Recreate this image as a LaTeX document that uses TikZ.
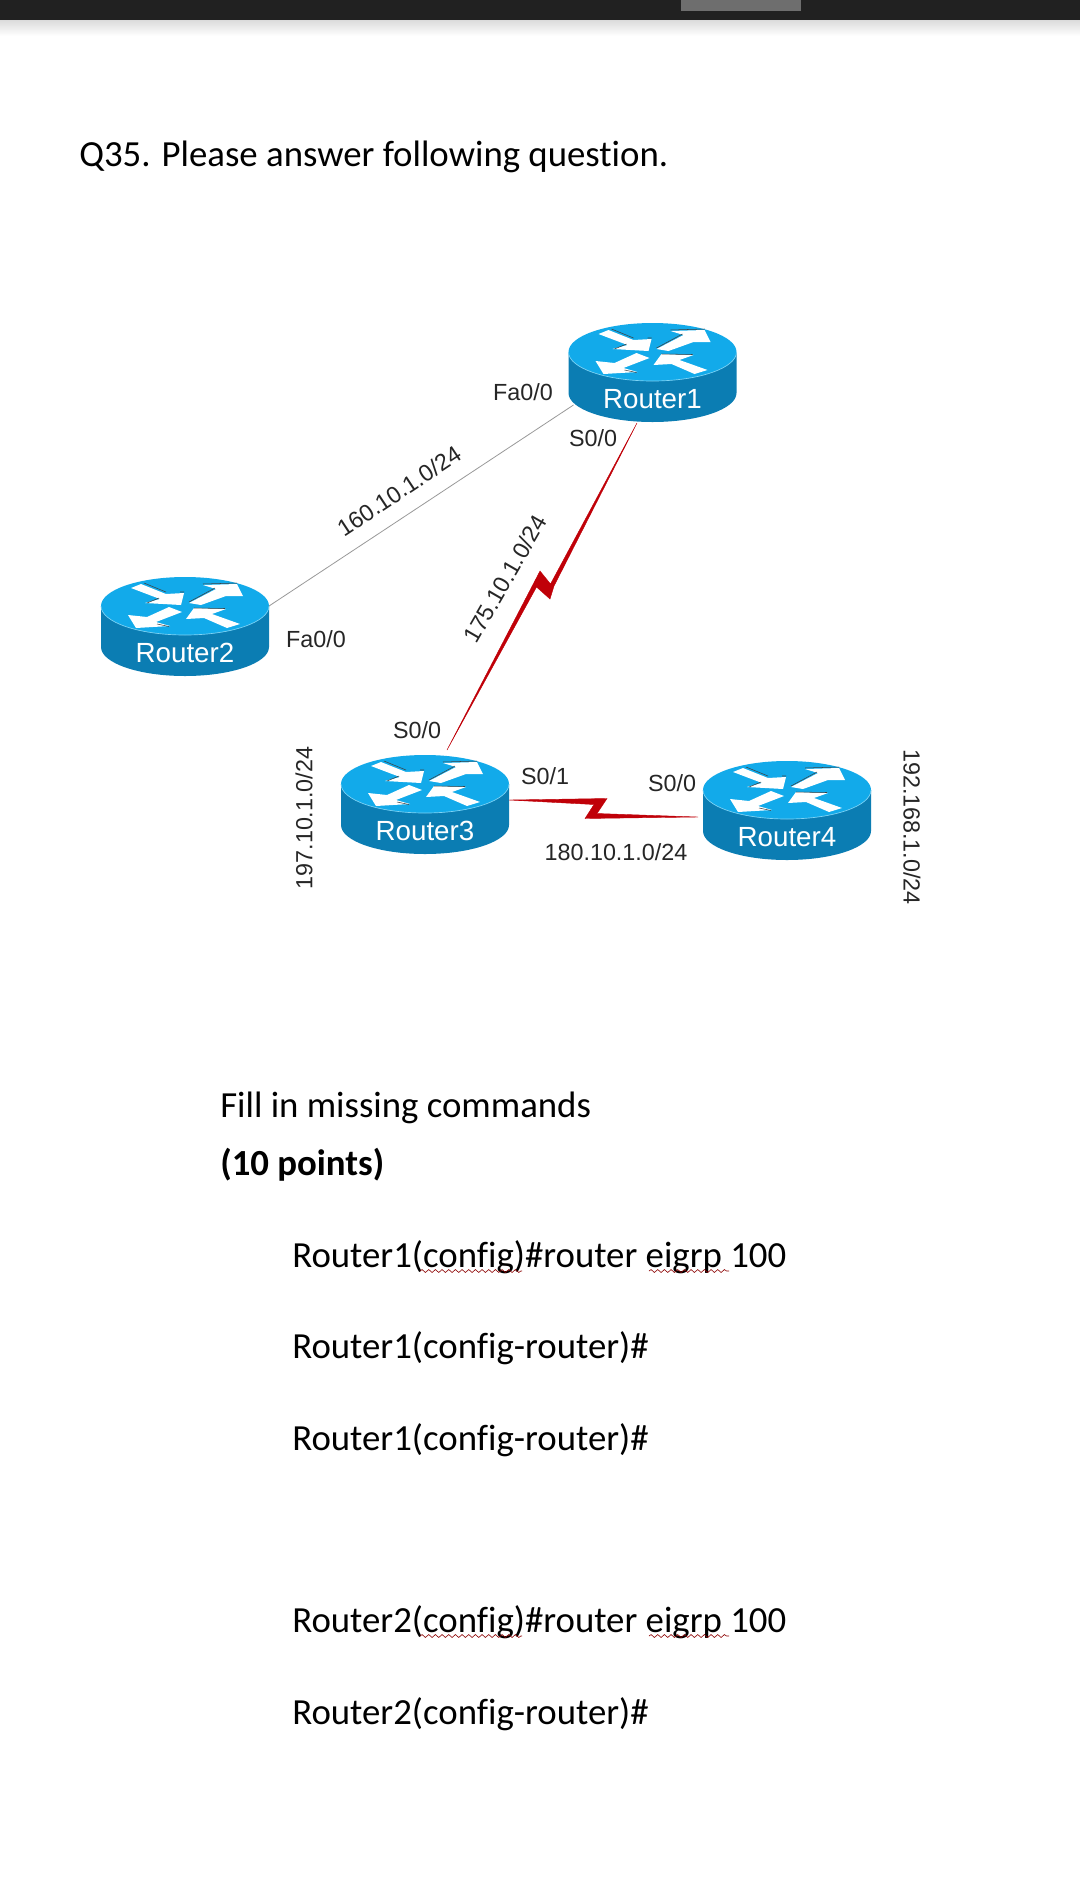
\documentclass[tikz,border=0pt]{standalone}
\usepackage{fontspec}
\setmainfont[Ligatures=NoCommon]{Carlito}
\newfontfamily\diagfont{Liberation Sans}
\usetikzlibrary{calc,decorations.pathmorphing}
\definecolor{rtop}{HTML}{12AAEA}
\definecolor{rside}{HTML}{0B7DB3}
\definecolor{rrim}{HTML}{7FD4F5}
\definecolor{serialred}{HTML}{C00008}
\definecolor{barcol}{HTML}{212121}
\definecolor{barblock}{HTML}{6E6E6E}
\tikzset{
  x=0.75pt,y=-0.75pt,
  routerbox/.style={rectangle,minimum width=126pt,minimum height=73.5pt,inner sep=0pt,text=white,
    font=\diagfont\fontsize{20.8}{24}\selectfont},
  netlabel/.style={inner sep=0pt,text=black!85,font=\diagfont\fontsize{17.5}{20}\selectfont},
  pagetext/.style={anchor=base west,inner sep=0pt,font=\fontsize{27.6}{32}\selectfont},
  ethernetlink/.style={draw=black!40,line width=0.6pt},
  seriallink/.style={fill=serialred,draw=serialred,line width=0.3pt,line join=miter},
  spell/.style={draw=red!55!black,line width=0.45pt,decorate,decoration={snake,segment length=5pt,amplitude=1.1pt}},
}
\newcommand{\routerat}[4]{%
  \begin{scope}[shift={(#1,#2)}]
    \fill[rside] (-84,0) -- (-84,41) arc[start angle=180,end angle=360,x radius=63pt,y radius=21.75pt] -- (84,0) -- cycle;
    \fill[rtop] (0,0) ellipse[x radius=63pt,y radius=21.75pt];
    \draw[rrim,line width=0.5pt] (-84,0) arc[start angle=180,end angle=360,x radius=63pt,y radius=21.75pt];
    \fill[white] (-54,-18) -- (-44,-22) -- (-19,-12) -- (-1,-13) -- (-4,-1) -- (-40,-3) -- (-25,-7) -- cycle;
    \fill[white] (4,-3) -- (16,-1) -- (41,-10) -- (58,-10) -- (52,-22) -- (18,-21) -- (31,-17) -- cycle;
    \fill[white] (-3,6) -- (-16,1) -- (-38,11) -- (-57,9) -- (-49,22) -- (-15,20) -- (-29,16) -- cycle;
    \fill[white] (55,18) -- (42,22) -- (19,12) -- (1,13) -- (9,2) -- (41,3) -- (27,8) -- cycle;
    \draw[black!75,line width=0.4pt] (-41,-23) -- (-19,-14) (-5,-14) -- (-1,-14) (18,-22) -- (52,-23) (4,-4) -- (30,-18)
      (-38,-3) -- (-26,-8) (9,2) -- (40,2.5) (-28,18) -- (-16,20.5);
  \end{scope}
  \node[routerbox] (#3) at (#1,#2+20) {\smash{\raisebox{-27pt}{#4}}};%
}
\begin{document}
\begin{tikzpicture}
\useasboundingbox (0,0) rectangle (1080,1885);
\fill[white] (0,0) rectangle (1080,1885);
% window bar
\shade[top color=black!14,bottom color=white] (0,20) rectangle (1080,36);
\fill[barcol] (0,0) rectangle (1080,20);
\fill[barblock] (681,0) rectangle (801,11);
% heading
\node[pagetext] (heading) at (79,166) {Q35. Please answer following question.};
% routers
\routerat{652.5}{352}{r1}{Router1}
\routerat{185}{606}{r2}{Router2}
\routerat{425}{784}{r3}{Router3}
\routerat{787}{790}{r4}{Router4}
% connector ends on the router bodies
\coordinate (r1fa) at ($(r1.center)+(-79,33)$);
\coordinate (r2fa) at ($(r2.center)+(84,-20)$);
\coordinate (r1s) at ($(r1.center)+(-15.5,51)$);
\coordinate (r3s) at ($(r3.center)+(22,-54)$);
\coordinate (r3e) at ($(r3.center)+(84,-4)$);
\coordinate (r4w) at ($(r4.center)+(-89,7)$);
% links
\draw[ethernetlink] (r1fa) -- (r2fa);
\path[seriallink] (r3s) -- (540,571) -- (550.5,584) -- (r1s) -- (554,586) -- (550,599) -- (536.5,587) -- cycle;
\path[seriallink] (r3e) -- (607,798.5) -- (597,813.5) -- (r4w) -- (585,818.5) -- (594,804.5) -- cycle;
% labels
\node[netlabel] (l1) at (523,392) {Fa0/0};
\node[netlabel] (l2) at (316,639) {Fa0/0};
\node[netlabel] (l3) at (593,438) {S0/0};
\node[netlabel] (l4) at (417,730) {S0/0};
\node[netlabel] (l5) at (545,776) {S0/1};
\node[netlabel] (l6) at (672,783) {S0/0};
\node[netlabel] (n1) at (616,852) {180.10.1.0/24};
\node[netlabel,rotate=33.5] (n2) at (399,491) {160.10.1.0/24};
\node[netlabel,rotate=60] (n3) at (505,579) {175.10.1.0/24};
\node[netlabel,rotate=90] (n4) at (304,818) {197.10.1.0/24};
\node[netlabel,rotate=-90] (n5) at (912,827) {192.168.1.0/24};
% text
\node[pagetext] (t1) at (220,1117) {Fill in missing commands};
\node[pagetext,font=\fontsize{27.6}{32}\selectfont\bfseries] (t2) at (220,1175) {(10 points)};
\node[pagetext] (t3) at (292,1267) {Router1(config)\#router eigrp 100};
\node[pagetext] (t4) at (292,1358) {Router1(config-router)\#};
\node[pagetext] (t5) at (292,1450) {Router1(config-router)\#};
\node[pagetext] (t6) at (292,1632) {Router2(config)\#router eigrp 100};
\node[pagetext] (t7) at (292,1724) {Router2(config-router)\#};
% spell-check underlines
\draw[spell] (420,1271) -- (522,1271);
\draw[spell] (649,1271) -- (729,1271);
\draw[spell] (420,1636) -- (522,1636);
\draw[spell] (649,1636) -- (729,1636);
\end{tikzpicture}
\end{document}
